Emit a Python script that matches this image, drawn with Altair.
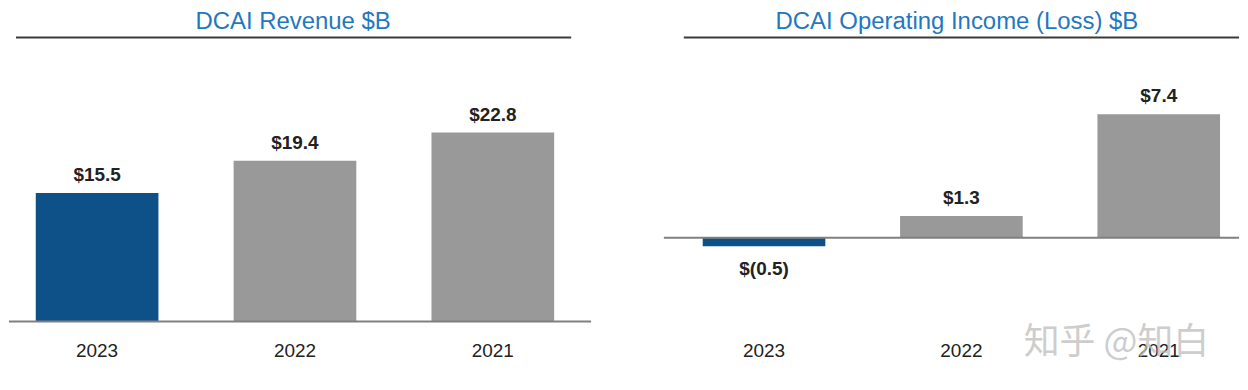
import altair as alt
import pandas as pd

years = ["2023", "2022", "2021"]
revenue = [15.5, 19.4, 22.8]
revenue_labels = ["$15.5", "$19.4", "$22.8"]
op_income = [-0.5, 1.3, 7.4]
op_income_labels = ["$(0.5)", "$1.3", "$7.4"]
period = ["current", "prior", "prior"]
titles = ["DCAI Revenue $B", "DCAI Operating Income (Loss) $B"]
watermark = ["知乎 @知白"]

FONT = "Liberation Sans"
BLUE = "#0e5189"
GRAY = "#999999"
TITLE_BLUE = "#1f78c0"
H = 314


def panel(values, labels, title, W, xscale, ydomain, title_x, line_x, line_x2, mark=None):
    df = pd.DataFrame({"year": years, "value": values, "label": labels, "period": period})
    x = alt.X("year:N", sort=years, scale=xscale,
              axis=alt.Axis(title=None, ticks=False, domain=False, labelAngle=0,
                            labelFontSize=19, labelFont=FONT, labelColor="#222222",
                            labelPadding=20))
    yscale = alt.Scale(domain=ydomain, nice=False, zero=False)
    y = alt.Y("value:Q", scale=yscale, axis=None)
    base = alt.Chart(df).encode(x=x)
    bars = base.mark_bar().encode(
        y=y, y2=alt.datum(0),
        color=alt.Color("period:N", scale=alt.Scale(domain=["current", "prior"], range=[BLUE, GRAY]), legend=None),
    )
    zero = alt.Chart(pd.DataFrame({"value": [0]})).mark_rule(color="#808080", strokeWidth=2).encode(
        y=alt.Y("value:Q", scale=yscale, axis=None), x=alt.value(0), x2=alt.value(W))
    pos = base.transform_filter("datum.value >= 0").mark_text(
        dy=-18, fontSize=19, fontWeight="bold", font=FONT, color="#222222").encode(y=y, text="label:N")
    neg = base.transform_filter("datum.value < 0").mark_text(
        dy=23, fontSize=19, fontWeight="bold", font=FONT, color="#222222").encode(y=y, text="label:N")
    tdf = pd.DataFrame({"t": [title]})
    ttl = alt.Chart(tdf).mark_text(font=FONT, fontSize=24, color=TITLE_BLUE, align="center",
                                   baseline="alphabetic").encode(
        x=alt.value(title_x), y=alt.value(20), text="t:N")
    uline = alt.Chart(tdf).mark_rule(color="#3a3a3a", strokeWidth=2).encode(
        x=alt.value(line_x), x2=alt.value(line_x2), y=alt.value(29))
    layers = [bars, zero, pos, neg, ttl, uline]
    if mark is not None:
        wm = alt.Chart(pd.DataFrame({"w": mark})).mark_text(
            font="Noto Sans CJK SC", fontSize=36, color="#bdbdbd", opacity=0.75,
            align="center", baseline="middle").encode(x=alt.value(454), y=alt.value(336), text="w:N")
        layers.append(wm)
    return alt.layer(*layers).properties(width=W, height=H)


left = panel(revenue, revenue_labels, titles[0], 584,
             alt.Scale(paddingInner=0.38, paddingOuter=0.161, align=0.42),
             [0, 37.74], 285, 7, 564)
right = panel(op_income, op_income_labels, titles[1], 577,
              alt.Scale(paddingInner=0.3788, paddingOuter=0.1465, align=0.672),
              [-5.01, 13.72], 294, 20, 577, mark=watermark)

chart = alt.hconcat(left, right, spacing=71).resolve_scale(color="shared").configure_view(stroke=None).properties(padding=0)

chart.save("out.html", embed_options={"renderer": "svg", "actions": False})
